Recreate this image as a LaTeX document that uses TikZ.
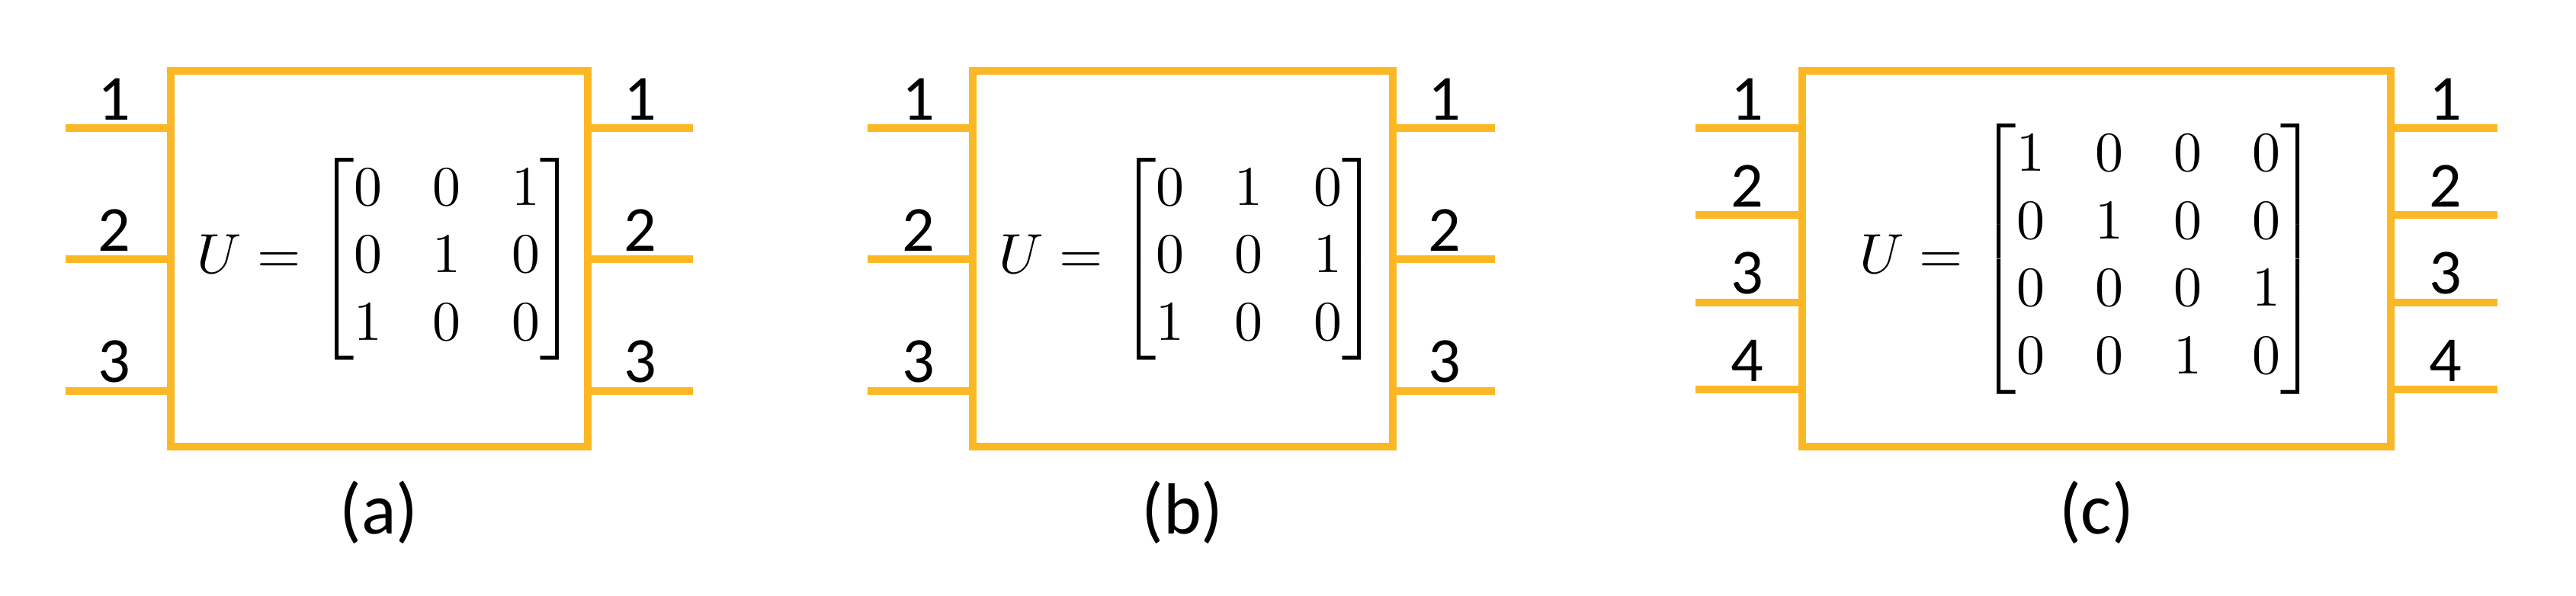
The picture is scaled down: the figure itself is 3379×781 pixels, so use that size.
\documentclass[tikz,border=0pt]{standalone}
\usepackage{amsmath}
\usepackage{graphicx}
\usepackage{fontspec}
\setsansfont{Carlito}
\usetikzlibrary{positioning}
\definecolor{boxorange}{RGB}{252,184,36}
\tikzset{
  gate/.style={draw=boxorange, line width=0.2cm, inner sep=0pt},
  wire/.style={draw=boxorange, line width=0.2cm},
  port/.style={font=\sffamily\fontsize{48}{54}\selectfont, anchor=south, inner sep=6pt},
  caption/.style={font=\sffamily\fontsize{54}{60}\selectfont},
}
\newcommand{\umat}[1]{\scalebox{4.2}{$\setlength{\arraycolsep}{4.5pt}U=\begin{bmatrix}#1\end{bmatrix}$}}
\begin{document}
\begin{tikzpicture}[x=0.02cm, y=-0.02cm]
  \useasboundingbox (0,0) rectangle (3379,781);
  % (a)
  \node[gate, minimum width=547*0.02cm, minimum height=493*0.02cm] (ga) at (497.5,339.5) {};
  \node at (508,340) {\umat{0&0&1\\0&1&0\\1&0&0}};
  \foreach \i/\y in {1/168,2/340,3/513} {
    \coordinate (al\i) at (86,\y);
    \coordinate (ar\i) at (909,\y);
    \draw[wire] (al\i) -- (ga.west |- al\i);
    \draw[wire] (ga.east |- ar\i) -- (ar\i);
    \node[port] at (150,\y) {\i};
    \node[port] at (840,\y) {\i};
  }
  \node[caption] (ca) at (497,672) {(a)};
  % (b)
  \node[gate, minimum width=551*0.02cm, minimum height=493*0.02cm] (gb) at (1551.5,339.5) {};
  \node at (1560,340) {\umat{0&1&0\\0&0&1\\1&0&0}};
  \foreach \i/\y in {1/168,2/340,3/513} {
    \coordinate (bl\i) at (1138,\y);
    \coordinate (br\i) at (1961,\y);
    \draw[wire] (bl\i) -- (gb.west |- bl\i);
    \draw[wire] (gb.east |- br\i) -- (br\i);
    \node[port] at (1205,\y) {\i};
    \node[port] at (1895,\y) {\i};
  }
  \node[caption] (cb) at (1551,672) {(b)};
  % (c)
  \node[gate, minimum width=772*0.02cm, minimum height=493*0.02cm] (gc) at (2750,339.5) {};
  \node at (2740,340) {\umat{1&0&0&0\\0&1&0&0\\0&0&0&1\\0&0&1&0}};
  \foreach \i/\y in {1/168,2/282,3/397,4/511} {
    \coordinate (cl\i) at (2224,\y);
    \coordinate (cr\i) at (3276,\y);
    \draw[wire] (cl\i) -- (gc.west |- cl\i);
    \draw[wire] (gc.east |- cr\i) -- (cr\i);
    \node[port] at (2292,\y) {\i};
    \node[port] at (3208,\y) {\i};
  }
  \node[caption] (cc) at (2750,672) {(c)};
\end{tikzpicture}
\end{document}
